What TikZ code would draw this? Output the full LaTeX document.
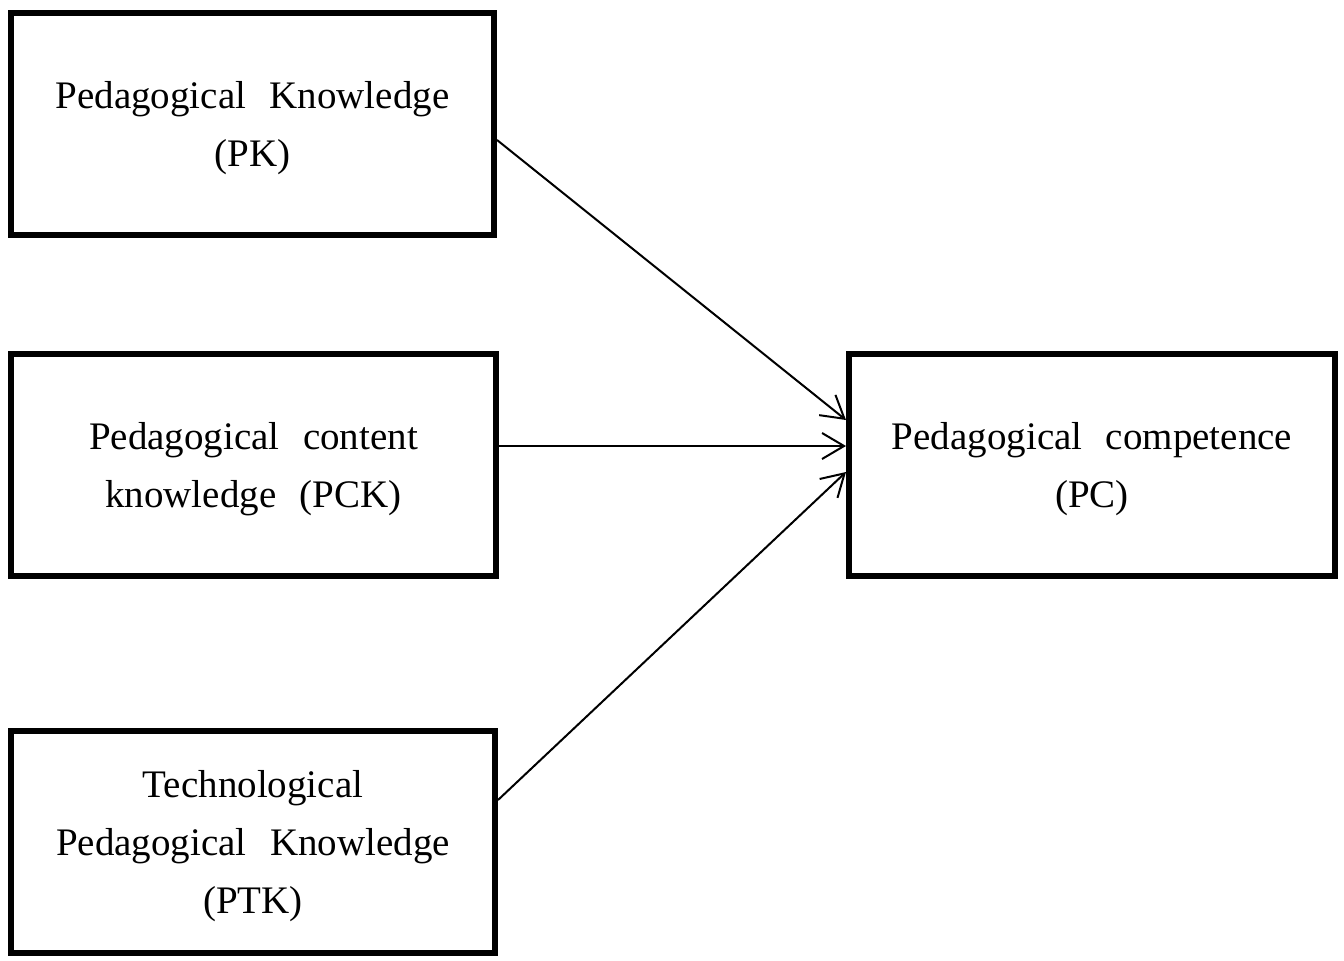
\documentclass[tikz,border=0pt]{standalone}
\usepackage{fontspec}
\setmainfont{Liberation Serif}
\usetikzlibrary{arrows.meta}
\newcommand{\wgap}{\hspace{0.6em}}
\begin{document}
\begin{tikzpicture}[x=1pt,y=-1pt,
  box/.style={draw, line width=6pt, minimum height=222pt, align=center,
    font=\fontsize{39}{58}\selectfont, inner sep=0pt, text depth=0pt},
  link/.style={line width=2pt, -{Straight Barb[length=22pt,width=26pt,line width=2pt]}}]
\useasboundingbox (0,0) rectangle (1344,961);
\node[box, minimum width=483pt] (pk) at (252.5,124) {Pedagogical\wgap Knowledge\\(PK)};
\node[box, minimum width=485pt] (pck) at (253.5,465) {Pedagogical\wgap content\\knowledge\wgap (PCK)};
\node[box, minimum width=484pt] (ptk) at (253,842) {Technological\\Pedagogical\wgap Knowledge\\(PTK)};
\node[box, minimum width=486pt] (pc) at (1092,465) {Pedagogical\wgap competence\\(PC)};
\draw[link] ([yshift=-16pt]pk.east) -- ([yshift=45pt]pc.west);
\draw[link] ([yshift=19pt]pck.east) -- ([yshift=19pt]pc.west);
\draw[link] ([yshift=42pt]ptk.east) -- ([yshift=-7pt]pc.west);
\end{tikzpicture}
\end{document}
